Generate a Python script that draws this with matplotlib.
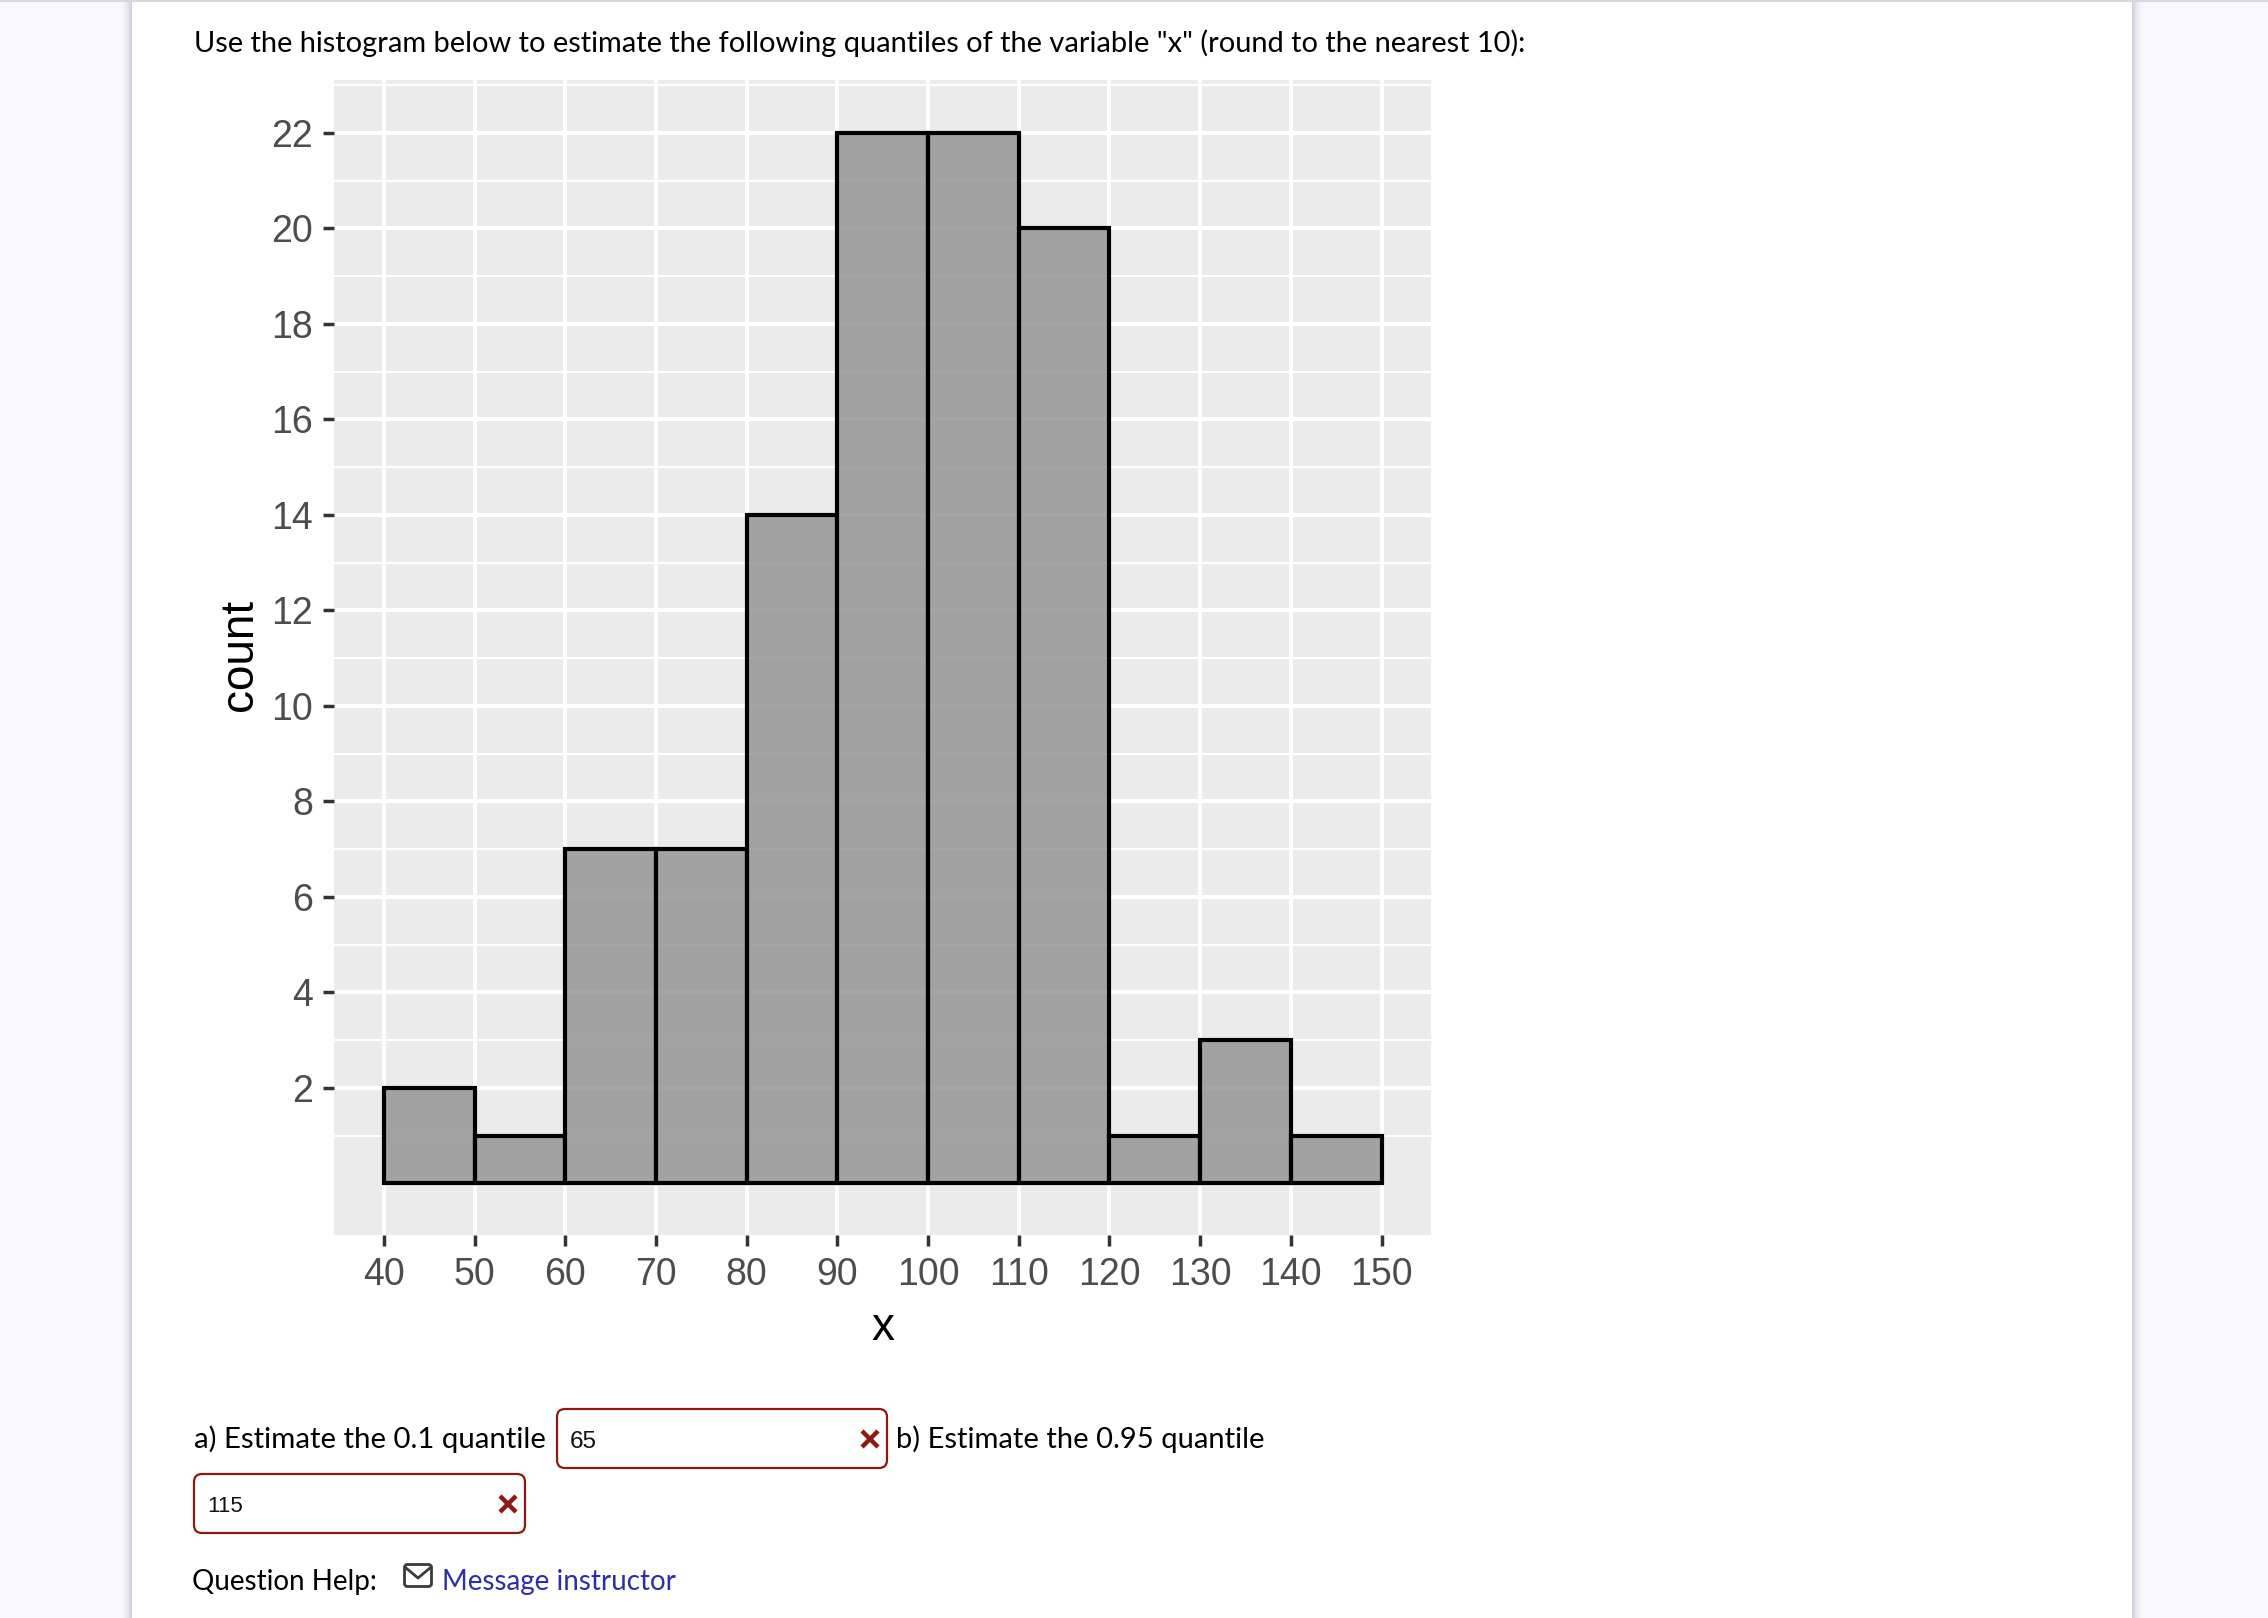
import matplotlib
matplotlib.use("Agg")
import matplotlib.pyplot as plt
from matplotlib.patches import FancyBboxPatch, Rectangle

W, H = 2268, 1618

bin_edges = [40, 50, 60, 70, 80, 90, 100, 110, 120, 130, 140]
counts = [2, 1, 7, 7, 14, 22, 22, 20, 1, 3, 1]
bin_width = 10
x_ticks = [40, 50, 60, 70, 80, 90, 100, 110, 120, 130, 140, 150]
y_ticks = [2, 4, 6, 8, 10, 12, 14, 16, 18, 20, 22]
y_minor = [1, 3, 5, 7, 9, 11, 13, 15, 17, 19, 21, 23]

question = 'Use the histogram below to estimate the following quantiles of the variable "x" (round to the nearest 10):'
part_a = "a) Estimate the 0.1 quantile"
part_b = "b) Estimate the 0.95 quantile"
answer_a = "65"
answer_b = "115"

PAGE_FONT = "Lato"
PLOT_FONT = "Liberation Sans"
RED = "#8b1a10"

fig = plt.figure(figsize=(W / 100, H / 100), dpi=100, facecolor="#f7f7fd")

# page behind the plot, in pixels
page = fig.add_axes([0, 0, 1, 1])
page.set_xlim(0, W)
page.set_ylim(H, 0)
page.axis("off")

# card shadows
for i in range(12):
    a = 0.28 * (1 - i / 12) ** 2
    page.add_patch(Rectangle((132 - i - 1, 0), 1, H, color="#70708a", alpha=a, lw=0))
    page.add_patch(Rectangle((2132 + i, 0), 1, H, color="#70708a", alpha=a, lw=0))
page.add_patch(Rectangle((132, 0), 2000, H, color="white", lw=0))
page.add_patch(Rectangle((0, 0), W, 2, color="#d8d8de", lw=0))

page.text(194, 52, question, fontsize=20.87, family=PAGE_FONT, va="baseline")
page.text(194, 1448, part_a, fontsize=21.2, family=PAGE_FONT, va="baseline")
page.text(896, 1448, part_b, fontsize=21, family=PAGE_FONT, va="baseline")
page.text(192, 1590, "Question Help:", fontsize=20, family=PAGE_FONT, va="baseline")
page.text(442, 1590, "Message instructor", fontsize=20, family=PAGE_FONT, va="baseline", color="#2e2ea8")


def answer_box(x0, y0, x1, y1, value, size):
    page.add_patch(FancyBboxPatch((x0 + 6, y0 + 6), x1 - x0 - 12, y1 - y0 - 12,
                                  boxstyle="round,pad=6,rounding_size=8",
                                  fc="white", ec=RED, lw=1.6))
    page.text(x0 + 13, (y0 + y1) / 2 + 9, value, fontsize=size, family=PLOT_FONT, va="baseline", color="#111111")
    page.plot([x1 - 17], [(y0 + y1) / 2], marker="x", ms=12, mew=3.2, color=RED)


answer_box(557, 1409, 887, 1468, answer_a, 17.5)
answer_box(194, 1474, 525, 1533, answer_b, 16)

# envelope icon
page.add_patch(FancyBboxPatch((406, 1566), 24, 19, boxstyle="round,pad=1.5,rounding_size=3",
                              fc="none", ec="#3a3a3a", lw=2))
page.plot([406, 418, 430], [1568, 1578, 1568], color="#3a3a3a", lw=2)

# histogram
ax = fig.add_axes([334 / W, 1 - 1235 / H, (1431 - 334) / W, (1235 - 80) / H], facecolor="#ebebeb")
ax.bar(bin_edges, counts, width=bin_width, align="edge",
       color=(0.585, 0.585, 0.585, 0.85), edgecolor="black", linewidth=3, zorder=3)

ax.set_xlim(34.5, 155.45)
ax.set_ylim(-1.084, 23.11)
ax.set_xticks(x_ticks)
ax.set_yticks(y_ticks)
ax.set_yticks(y_minor, minor=True)
ax.grid(True, which="major", color="white", linewidth=2.9, zorder=1)
ax.grid(True, which="minor", axis="y", color="white", linewidth=1.5, zorder=1)
ax.set_axisbelow(True)
ax.tick_params(which="minor", length=0)
ax.tick_params(which="major", length=8, width=2.5, color="#333333", pad=7,
               labelsize=27, labelcolor="#4d4d4d")
ax.tick_params(axis="x", which="major", pad=8)
for lab in ax.get_xticklabels() + ax.get_yticklabels():
    lab.set_family(PLOT_FONT)
for lab in ax.get_yticklabels():
    lab.set_verticalalignment("center_baseline")
for s in ax.spines.values():
    s.set_visible(False)

ax.set_xlabel("x", fontsize=33, family=PLOT_FONT, labelpad=9)
ax.set_ylabel("count", fontsize=33, family=PLOT_FONT, labelpad=7, y=0.502)

fig.savefig("out.png", dpi=100, facecolor=fig.get_facecolor())
